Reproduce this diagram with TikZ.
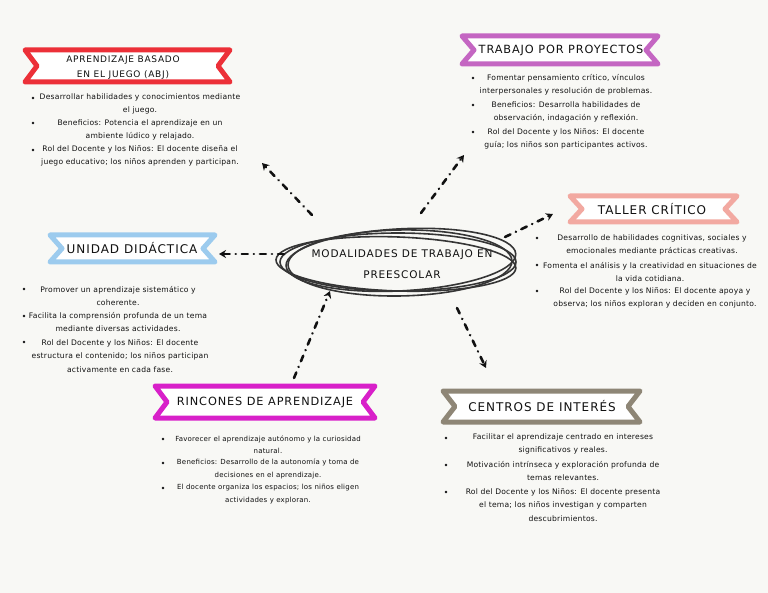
\documentclass[tikz,border=0pt]{standalone}
\usepackage{fontspec}
\setmainfont{DejaVu Sans}
\newfontfamily\bodyf[LetterSpace=3]{DejaVu Sans}
\newfontfamily\titf[LetterSpace=8]{DejaVu Sans}
\usetikzlibrary{arrows.meta}
\definecolor{bg}{HTML}{F8F8F5}
\definecolor{cred}{HTML}{EC3038}
\definecolor{cpur}{HTML}{C466C2}
\definecolor{cpink}{HTML}{F2A9A1}
\definecolor{cblue}{HTML}{9CCBEE}
\definecolor{cmag}{HTML}{D820C9}
\definecolor{ctau}{HTML}{8E8676}
\definecolor{ink}{HTML}{111111}
\tikzset{
 bt/.style={font=\bodyf\fontsize{7.6}{13.3}\selectfont, align=center, inner sep=0pt, text=ink},
 tt/.style={font=\titf\fontsize{11.3}{14}\selectfont, align=center, inner sep=0pt, text=ink},
 bul/.style={circle, fill=ink, inner sep=0pt, minimum size=2.6pt},
 conn/.style={ink, line width=2.6pt, dash pattern=on 6pt off 6pt on 0.1pt off 6pt, line cap=round, -{Stealth[length=7pt,width=8pt]}},
}
\newcommand{\banner}[6]{% x1 x2 ytop ybot color name
  \path[draw=#5, line width=5pt, fill=white, line join=round]
   (#1,#3) -- (#2,#3) -- ({#2-12},{(#3+#4)/2}) -- (#2,#4) -- (#1,#4) -- ({#1+12},{(#3+#4)/2}) -- cycle;
  \coordinate (#6) at ({(#1+#2)/2},{(#3+#4)/2});
}
\begin{document}
\begin{tikzpicture}[x=1pt,y=-1pt]
\fill[bg] (0,0) rectangle (768,593);
\useasboundingbox (0,0) rectangle (768,593);
% center
\node[tt, font=\titf\fontsize{10.5}{21}\selectfont] (c) at (402,264) {MODALIDADES DE TRABAJO EN\\PREESCOLAR};
\foreach \a/\dx/\dy/\rx/\ry in {0/0/0/118/29, 3/3/-2/115/31, -2/-2/2/120/27, 1/2/1/112/33}
  \draw[ink!85, line width=1.6pt, rotate around={\a:(398,262)}] (398+\dx,262+\dy) ellipse ({\rx} and {\ry});
% banners
\banner{25}{230}{50}{82}{cred}{b1}
\banner{462}{658}{36}{64}{cpur}{b2}
\banner{570}{737}{196}{222}{cpink}{b3}
\banner{50}{215}{235}{262}{cblue}{b4}
\banner{155}{375}{386}{418}{cmag}{b5}
\banner{443}{640}{391}{422}{ctau}{b6}
\node[tt, font=\titf\fontsize{9}{15}\selectfont] (t1) at (123,68) {APRENDIZAJE BASADO\\EN EL JUEGO (ABJ)};
\node[tt] (t2) at (561,50) {TRABAJO POR PROYECTOS};
\node[tt, font=\titf\fontsize{12}{14}\selectfont] (t3) at (652,209) {TALLER CRÍTICO};
\node[tt, font=\titf\fontsize{12}{14}\selectfont] (t4) at (132,248) {UNIDAD DIDÁCTICA};
\node[tt] (t5) at (265,402) {RINCONES DE APRENDIZAJE};
\node[tt, font=\titf\fontsize{12}{14}\selectfont] (t6) at (542,406) {CENTROS DE INTERÉS};
% connectors
\coordinate (a1) at (312,215); \coordinate (e1) at (262,163);
\coordinate (a2) at (421,213); \coordinate (e2) at (464,155);
\coordinate (a3) at (505,237); \coordinate (e3) at (553,214);
\coordinate (a4) at (284,254); \coordinate (e4) at (219,254);
\coordinate (a5) at (294,378); \coordinate (e5) at (330,291);
\coordinate (a6) at (457,308); \coordinate (e6) at (486,368);
\foreach \i in {1,...,6} \draw[conn] (a\i) -- (e\i);
% ABJ list
\node[bt] (l1a) at (140,104) {Desarrollar habilidades y conocimientos mediante\\el juego.};
\node[bt] (l1b) at (140,130) {Beneficios: Potencia el aprendizaje en un\\ambiente lúdico y relajado.};
\node[bt] (l1c) at (140,156) {Rol del Docente y los Niños: El docente diseña el\\juego educativo; los niños aprenden y participan.};
\foreach \y in {98,123,150} \node[bul] at (33,\y) {};
% Trabajo list
\node[bt] (l2a) at (566,85) {Fomentar pensamiento crítico, vínculos\\interpersonales y resolución de problemas.};
\node[bt] (l2b) at (566,112) {Beneficios: Desarrolla habilidades de\\observación, indagación y reflexión.};
\node[bt] (l2c) at (566,139) {Rol del Docente y los Niños: El docente\\guía; los niños son participantes activos.};
\foreach \y in {78,105,132} \node[bul] at (473,\y) {};
% Taller list
\node[bt] (l3a) at (652,245) {Desarrollo de habilidades cognitivas, sociales y\\emocionales mediante prácticas creativas.};
\node[bt] (l3b) at (650,272) {Fomenta el análisis y la creatividad en situaciones de\\la vida cotidiana.};
\node[bt] (l3c) at (655,298) {Rol del Docente y los Niños: El docente apoya y\\observa; los niños exploran y deciden en conjunto.};
\foreach \y in {238,265,291} \node[bul] at (537,\y) {};
% Unidad list
\node[bt] (l4a) at (118,296) {Promover un aprendizaje sistemático y\\coherente.};
\node[bt] (l4b) at (118,322) {Facilita la comprensión profunda de un tema\\mediante diversas actividades.};
\node[bt] (l4c) at (120,356) {Rol del Docente y los Niños: El docente\\estructura el contenido; los niños participan\\activamente en cada fase.};
\foreach \y in {289,316,342} \node[bul] at (24,\y) {};
% Rincones list
\node[bt, font=\bodyf\fontsize{7}{12.3}\selectfont] (l5a) at (268,445) {Favorecer el aprendizaje autónomo y la curiosidad\\natural.};
\node[bt, font=\bodyf\fontsize{7}{12.3}\selectfont] (l5b) at (268,469) {Beneficios: Desarrollo de la autonomía y toma de\\decisiones en el aprendizaje.};
\node[bt, font=\bodyf\fontsize{7}{12.3}\selectfont] (l5c) at (268,494) {El docente organiza los espacios; los niños eligen\\actividades y exploran.};
\foreach \y in {439,463,488} \node[bul] at (163,\y) {};
% Centros list
\node[bt] (l6a) at (563,444) {Facilitar el aprendizaje centrado en intereses\\significativos y reales.};
\node[bt] (l6b) at (563,471) {Motivación intrínseca y exploración profunda de\\temas relevantes.};
\node[bt] (l6c) at (563,505) {Rol del Docente y los Niños: El docente presenta\\el tema; los niños investigan y comparten\\descubrimientos.};
\foreach \y in {438,465,492} \node[bul] at (446,\y) {};
\end{tikzpicture}
\end{document}
